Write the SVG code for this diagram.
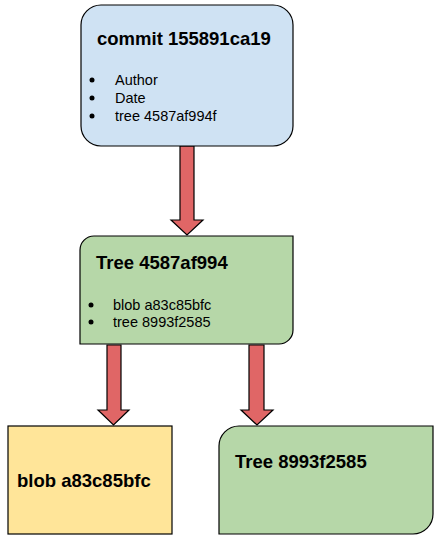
<svg xmlns="http://www.w3.org/2000/svg" width="438" height="544" viewBox="0 0 438 544">
<style>
.box{stroke:#000;stroke-width:1.2}
.title{font-family:"Liberation Sans",Arial,sans-serif;font-weight:bold;font-size:18.5px;fill:#000}
.item{font-family:"Liberation Sans",Arial,sans-serif;font-size:14.5px;fill:#000}
.arrow{fill:#e06666;stroke:#000;stroke-width:1.2;stroke-linejoin:miter}
</style>
<rect width="438" height="544" fill="#fff"/>
<g id="connectors">
<polygon class="arrow" points="180,146 194,146 194,220 203,220 187,235 171,220 180,220"/>
<polygon class="arrow" points="107,345 121,345 121,410 129,410 113.5,425 98,410 107,410"/>
<polygon class="arrow" points="249,345 264,345 264,410 273,410 257,425 241,410 249,410"/>
</g>
<g id="commit">
<rect class="box" x="81" y="5" width="212" height="141" rx="20" fill="#cfe2f3"/>
<text class="title" x="97" y="45">commit 155891ca19</text>
<circle cx="92" cy="80" r="2.5"/><text class="item" x="115" y="85">Author</text>
<circle cx="92" cy="98" r="2.5"/><text class="item" x="115" y="103">Date</text>
<circle cx="92" cy="116" r="2.5"/><text class="item" x="115" y="121">tree 4587af994f</text>
</g>
<g id="tree1">
<path class="box" d="M80,250 A14,14 0 0 1 94,236 H293 V330 A14,14 0 0 1 279,344 H80 Z" fill="#b6d7a8"/>
<text class="title" x="96" y="269">Tree 4587af994</text>
<circle cx="91" cy="305" r="2.5"/><text class="item" x="113" y="310">blob a83c85bfc</text>
<circle cx="91" cy="322" r="2.5"/><text class="item" x="113" y="327">tree 8993f2585</text>
</g>
<g id="blob">
<rect class="box" x="8" y="426" width="164" height="108" fill="#ffe599"/>
<text class="title" x="17" y="487">blob a83c85bfc</text>
</g>
<g id="tree2">
<path class="box" d="M219,446 A20,20 0 0 1 239,426 H433 V514 A20,20 0 0 1 413,534 H219 Z" fill="#b6d7a8"/>
<text class="title" x="235" y="468">Tree 8993f2585</text>
</g>
</svg>
